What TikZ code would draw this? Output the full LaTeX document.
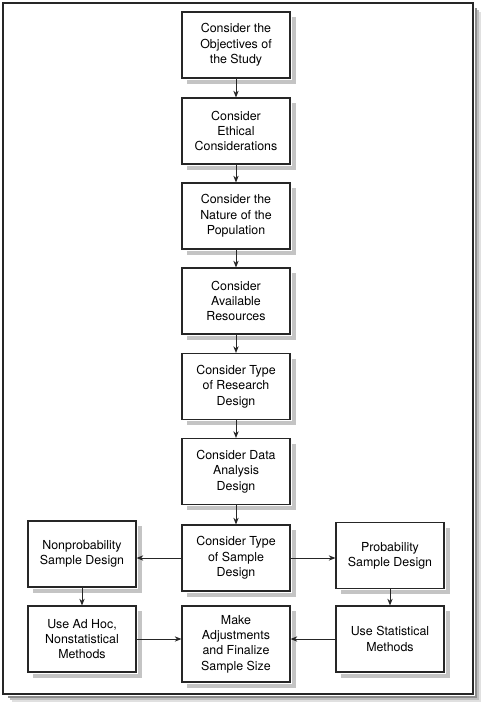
\documentclass[tikz,border=0pt]{standalone}
\usepackage{fontspec}
\setmainfont{TeX Gyre Heros}
\usetikzlibrary{arrows.meta}

\definecolor{shadowgray}{RGB}{196,196,196}
\tikzset{every picture/.style={line width=0.75pt}}
\tikzset{stepbox/.style={draw=black!85, line width=0.9pt, fill=white, minimum width=81pt, minimum height=49.5pt, inner sep=0pt, align=center, font=\fontsize{9.3}{11.5}\selectfont}}
\tikzset{boxshade/.style={draw=shadowgray, line width=3pt, line cap=butt}}
\tikzset{flow/.style={draw=black!85, line width=0.75pt, -{Stealth[length=5pt,width=4pt]}}}

\begin{document}
\begin{tikzpicture}[x=0.75pt,y=0.75pt,yscale=-1,xscale=1]
\useasboundingbox (0,0) rectangle (485,707);

%Outer frame with soft shadow
\draw [black!12, line width=1.5pt] (480,12) -- (480,701) -- (12,701);
\draw [black!25, line width=1.5pt] (478,10) -- (478,699) -- (10,699);
\draw [black!45, line width=1.5pt] (476,8) -- (476,697) -- (8,697);
\draw [fill=white, draw=black!85, line width=1pt] (3,3) rectangle (473,694);

% Text Node
\draw (236,45) node [stepbox] (objectives) {Consider the\\Objectives of\\the Study};
% Text Node
\draw (236,131) node [stepbox] (ethics) {Consider\\Ethical\\Considerations};
% Text Node
\draw (236,216) node [stepbox] (population) {Consider the\\Nature of the\\Population};
% Text Node
\draw (236,301) node [stepbox] (resources) {Consider\\Available\\Resources};
% Text Node
\draw (236,386.5) node [stepbox] (research) {Consider Type\\of Research\\Design};
% Text Node
\draw (236,471.5) node [stepbox] (analysis) {Consider Data\\Analysis\\Design};
% Text Node
\draw (236,558) node [stepbox] (sampletype) {Consider Type\\of Sample\\Design};
% Text Node
\draw (82,554) node [stepbox] (nonprob) {Nonprobability\\Sample Design};
% Text Node
\draw (390,555.5) node [stepbox] (prob) {Probability\\Sample Design};
% Text Node
\draw (82,639) node [stepbox] (adhoc) {Use Ad Hoc,\\Nonstatistical\\Methods};
% Text Node
\draw (236,644) node [stepbox, minimum height=57pt] (finalize) {Make\\Adjustments\\and Finalize\\Sample Size};
% Text Node
\draw (390,639) node [stepbox] (statmethods) {Use Statistical\\Methods};

%Box shadows
\foreach \bx in {objectives,ethics,population,resources,research,analysis,sampletype,nonprob,prob,adhoc,finalize,statmethods}
  \draw [boxshade] ([shift={(3.3,6)}]\bx.north east) -- ([shift={(3.3,3.3)}]\bx.south east) -- ([shift={(6,3.3)}]\bx.south west);

%Straight Lines
\draw [flow] (objectives) -- (ethics);
\draw [flow] (ethics) -- (population);
\draw [flow] (population) -- (resources);
\draw [flow] (resources) -- (research);
\draw [flow] (research) -- (analysis);
\draw [flow] (analysis) -- (sampletype);
\draw [flow] (sampletype.west) -- (sampletype.west -| nonprob.east);
\draw [flow] (sampletype.east) -- (sampletype.east -| prob.west);
\draw [flow] (nonprob) -- (adhoc);
\draw [flow] (prob) -- (statmethods);
\draw [flow] (adhoc.east) -- (adhoc.east -| finalize.west);
\draw [flow] (statmethods.west) -- (statmethods.west -| finalize.east);

\end{tikzpicture}
\end{document}
